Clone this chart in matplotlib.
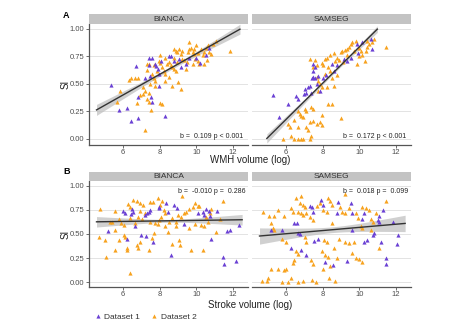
import numpy as np
import matplotlib.pyplot as plt
from matplotlib.lines import Line2D

plt.rcParams['font.family'] = ['Liberation Sans', 'DejaVu Sans']

# ---- data ----
# top row: SI vs WMH volume (log)
bianca_wmh_d1_x = [5.35, 5.76, 6.22, 6.43, 6.83, 6.70, 7.43, 7.57, 7.39, 7.20,
                   7.48, 7.50, 7.57, 6.80, 7.98, 7.94, 7.81, 7.89, 8.09, 8.28,
                   8.50, 8.61, 8.78, 9.06, 9.15, 9.43, 9.60, 9.98, 10.20, 10.50,
                   10.70, 7.76]
bianca_wmh_d1_y = [0.49, 0.26, 0.28, 0.16, 0.19, 0.66, 0.74, 0.74, 0.67, 0.55,
                   0.57, 0.38, 0.34, 0.38, 0.59, 0.48, 0.66, 0.64, 0.71, 0.21,
                   0.75, 0.75, 0.71, 0.73, 0.65, 0.68, 0.74, 0.74, 0.69, 0.76,
                   0.83, 0.68]
bianca_wmh_d2_x = [5.85, 5.69, 6.46, 6.65, 6.83, 7.07, 6.93, 7.11, 7.20, 7.39,
                   6.78, 7.30, 7.39, 7.54, 7.17, 7.30, 7.43, 7.30, 7.57, 7.67,
                   7.76, 8.00, 8.13, 8.00, 7.94, 8.04, 8.22, 8.31, 8.31, 8.50,
                   8.65, 8.41, 8.69, 8.78, 8.87, 8.87, 8.96, 9.06, 9.15, 9.02,
                   9.15, 9.24, 9.33, 9.52, 9.60, 9.70, 9.60, 9.80, 9.89, 9.89,
                   9.98, 10.07, 10.17, 10.35, 10.44, 10.54, 10.63, 10.70, 10.80, 10.90,
                   11.05, 11.83, 8.50, 8.59, 8.13, 7.85, 7.67, 8.31, 8.78, 9.43,
                   9.80, 10.44, 10.26, 9.24, 8.78, 7.48, 7.76, 6.30, 9.90, 10.60,
                   8.95, 9.50, 10.10]
bianca_wmh_d2_y = [0.44, 0.34, 0.55, 0.55, 0.55, 0.47, 0.40, 0.41, 0.44, 0.42,
                   0.33, 0.36, 0.34, 0.26, 0.08, 0.68, 0.68, 0.63, 0.59, 0.55,
                   0.53, 0.33, 0.32, 0.76, 0.71, 0.69, 0.62, 0.59, 0.53, 0.56,
                   0.48, 0.68, 0.65, 0.64, 0.62, 0.80, 0.79, 0.82, 0.77, 0.52,
                   0.45, 0.73, 0.72, 0.79, 0.82, 0.83, 0.88, 0.79, 0.77, 0.82,
                   0.85, 0.71, 0.68, 0.76, 0.79, 0.83, 0.85, 0.79, 0.77, 0.86,
                   0.89, 0.80, 0.70, 0.67, 0.65, 0.62, 0.67, 0.74, 0.74, 0.64,
                   0.68, 0.68, 0.82, 0.80, 0.82, 0.50, 0.48, 0.54, 0.73, 0.72,
                   0.70, 0.70, 0.78]

samseg_wmh_d1_x = [5.31, 5.63, 6.13, 6.56, 6.65, 7.02, 7.11, 6.98, 7.20, 7.30,
                   7.39, 7.48, 7.57, 7.48, 7.57, 7.35, 7.67, 7.76, 7.85, 8.50,
                   8.59, 8.78, 9.15, 9.33, 9.52, 9.89, 10.17, 10.63, 8.17, 7.48,
                   10.70, 9.90, 8.00]
samseg_wmh_d1_y = [0.40, 0.20, 0.32, 0.39, 0.36, 0.45, 0.42, 0.41, 0.47, 0.48,
                   0.55, 0.56, 0.55, 0.62, 0.65, 0.42, 0.50, 0.57, 0.44, 0.68,
                   0.62, 0.67, 0.73, 0.71, 0.74, 0.86, 0.88, 0.91, 0.58, 0.68,
                   0.82, 0.78, 0.55]
samseg_wmh_d2_x = [7.30, 7.48, 7.67, 7.94, 8.04, 8.31, 8.41, 8.22, 8.41, 8.69,
                   8.78, 9.00, 9.06, 9.20, 9.33, 9.43, 9.57, 9.60, 9.80, 9.98,
                   10.07, 10.17, 10.30, 10.44, 10.54, 10.70, 10.35, 10.80, 11.46, 9.89,
                   7.67, 7.76, 7.85, 7.94, 7.76, 8.31, 8.50, 9.02, 7.98, 7.35,
                   7.48, 7.02, 7.11, 6.83, 6.93, 6.65, 6.74, 7.30, 7.48, 7.67,
                   7.85, 7.94, 7.11, 7.20, 6.65, 6.28, 6.46, 6.65, 6.83, 6.93,
                   7.30, 7.35, 5.81, 6.09, 6.24, 6.43, 8.22, 8.50, 8.78, 8.59,
                   8.13, 8.90, 9.30, 9.70, 10.00, 10.40, 8.60, 7.60, 8.10, 9.10]
samseg_wmh_d2_y = [0.73, 0.65, 0.67, 0.69, 0.67, 0.65, 0.62, 0.74, 0.76, 0.71,
                   0.74, 0.79, 0.80, 0.81, 0.82, 0.84, 0.86, 0.88, 0.89, 0.83,
                   0.80, 0.76, 0.71, 0.89, 0.86, 0.88, 0.80, 0.91, 0.84, 0.68,
                   0.56, 0.53, 0.50, 0.47, 0.44, 0.32, 0.32, 0.19, 0.22, 0.29,
                   0.27, 0.27, 0.25, 0.21, 0.20, 0.25, 0.23, 0.15, 0.16, 0.14,
                   0.15, 0.13, 0.11, 0.08, 0.11, 0.03, 0.00, 0.00, 0.00, 0.00,
                   0.00, 0.03, 0.00, 0.14, 0.11, 0.17, 0.47, 0.55, 0.58, 0.48,
                   0.59, 0.72, 0.76, 0.80, 0.75, 0.84, 0.78, 0.72, 0.73, 0.70]

# bottom row: SI vs stroke volume (log)
bianca_stroke_d1_x = [5.20, 6.00, 6.13, 6.24, 6.50, 6.56, 6.46, 6.65, 6.96, 7.24,
                      7.17, 7.30, 7.39, 7.48, 7.61, 7.98, 7.94, 8.35, 8.59, 8.78,
                      8.96, 8.46, 9.33, 10.07, 10.35, 10.54, 10.69, 10.44, 10.76, 10.80,
                      11.15, 11.65, 11.83, 11.46, 11.52, 12.15, 12.35]
bianca_stroke_d1_y = [0.53, 0.74, 0.72, 0.45, 0.76, 0.73, 0.71, 0.58, 0.49, 0.48,
                      0.70, 0.72, 0.73, 0.75, 0.42, 0.78, 0.77, 0.82, 0.28, 0.80,
                      0.77, 0.73, 0.60, 0.72, 0.73, 0.76, 0.74, 0.70, 0.69, 0.45,
                      0.74, 0.53, 0.54, 0.26, 0.19, 0.22, 0.59]
bianca_stroke_d2_x = [4.76, 4.67, 5.02, 5.07, 5.54, 5.26, 5.39, 5.57, 5.76, 5.57,
                      5.91, 6.06, 6.06, 6.13, 6.19, 6.24, 6.37, 6.28, 6.37, 6.56,
                      6.74, 6.93, 6.65, 6.83, 7.02, 6.74, 6.83, 6.93, 7.11, 7.48,
                      7.61, 7.48, 7.39, 7.76, 7.94, 8.09, 7.91, 8.04, 7.67, 8.22,
                      8.31, 8.31, 8.46, 8.65, 8.69, 8.87, 8.91, 9.06, 9.09, 9.24,
                      9.15, 9.33, 9.43, 9.60, 9.80, 9.60, 9.70, 9.94, 10.07, 10.17,
                      10.26, 10.44, 10.35, 10.63, 10.72, 10.80, 11.09, 11.46,
                      5.80, 6.40, 7.20, 7.90, 8.50, 9.00, 9.90, 10.50, 11.30, 8.10,
                      7.60, 6.90]
bianca_stroke_d2_y = [0.76, 0.47, 0.44, 0.26, 0.33, 0.63, 0.62, 0.74, 0.44, 0.54,
                      0.61, 0.59, 0.49, 0.47, 0.35, 0.33, 0.09, 0.81, 0.78, 0.85,
                      0.84, 0.82, 0.61, 0.68, 0.66, 0.39, 0.35, 0.42, 0.80, 0.83,
                      0.83, 0.63, 0.33, 0.61, 0.65, 0.68, 0.87, 0.80, 0.51, 0.75,
                      0.72, 0.58, 0.52, 0.67, 0.40, 0.63, 0.58, 0.44, 0.39, 0.90,
                      0.68, 0.72, 0.73, 0.76, 0.78, 0.56, 0.33, 0.82, 0.79, 0.79,
                      0.59, 0.58, 0.33, 0.63, 0.72, 0.76, 0.52, 0.84,
                      0.66, 0.67, 0.72, 0.60, 0.62, 0.70, 0.60, 0.68, 0.66, 0.84,
                      0.46, 0.74]

samseg_stroke_d1_x = [5.20, 5.76, 6.28, 6.46, 6.59, 6.65, 6.74, 6.83, 7.11, 7.30,
                      7.43, 7.48, 7.54, 7.72, 7.91, 8.00, 8.13, 8.56, 8.78, 8.83,
                      9.30, 9.52, 9.60, 9.60, 10.17, 10.26, 10.44, 10.72, 10.80, 11.00,
                      11.09, 11.05, 11.28, 10.26, 11.18, 11.46, 11.43, 11.83, 12.10, 12.05]
samseg_stroke_d1_y = [0.54, 0.54, 0.35, 0.61, 0.61, 0.51, 0.50, 0.33, 0.28, 0.79,
                      0.78, 0.73, 0.43, 0.45, 0.85, 0.80, 0.21, 0.18, 0.72, 0.83,
                      0.22, 0.82, 0.72, 0.54, 0.66, 0.72, 0.44, 0.49, 0.51, 0.65,
                      0.69, 0.63, 0.75, 0.42, 0.42, 0.25, 0.19, 0.63, 0.49, 0.40]
samseg_stroke_d2_x = [4.76, 5.07, 5.35, 5.20, 5.26, 5.35, 5.76, 6.00, 5.54, 5.91,
                      6.28, 6.37, 6.56, 6.83, 6.74, 6.93, 7.02, 6.65, 6.80, 6.93,
                      7.11, 7.30, 7.48, 7.67, 7.85, 8.04, 8.22, 8.28, 8.41, 8.50,
                      8.50, 8.96, 9.06, 9.24, 9.24, 9.43, 9.80, 9.94, 10.17, 10.35,
                      10.54, 10.63, 10.72, 11.46, 10.90, 10.63, 10.07, 10.17, 9.24, 9.43,
                      9.70, 9.60, 9.98, 10.17, 11.05, 9.80, 8.59, 8.78, 8.91, 8.31,
                      8.41, 7.94, 8.13, 8.04, 8.35, 8.69, 8.09, 8.22, 7.35, 7.48,
                      6.46, 6.37, 6.56, 6.65, 6.00, 6.28, 5.91, 5.54, 5.20, 4.71,
                      4.98, 5.02, 5.76, 6.13, 6.65, 6.93, 7.39, 7.63, 7.11, 7.02]
samseg_stroke_d2_y = [0.73, 0.69, 0.69, 0.61, 0.56, 0.54, 0.45, 0.42, 0.75, 0.69,
                      0.77, 0.73, 0.87, 0.90, 0.82, 0.80, 0.78, 0.73, 0.72, 0.70,
                      0.72, 0.68, 0.65, 0.79, 0.82, 0.75, 0.73, 0.87, 0.84, 0.80,
                      0.61, 0.78, 0.73, 0.72, 0.92, 0.77, 0.72, 0.67, 0.78, 0.77,
                      0.75, 0.66, 0.63, 0.84, 0.72, 0.54, 0.58, 0.56, 0.42, 0.41,
                      0.42, 0.30, 0.24, 0.21, 0.35, 0.25, 0.35, 0.25, 0.45, 0.26,
                      0.17, 0.32, 0.28, 0.14, 0.04, 0.01, 0.44, 0.42, 0.23, 0.19,
                      0.23, 0.20, 0.32, 0.29, 0.14, 0.04, 0.125, 0.14, 0.14, 0.01,
                      0.01, 0.04, 0.00, 0.00, 0.00, 0.01, 0.02, 0.00, 0.42, 0.47]

# fitted lines: y at x=4.55, slope, band half-width (min), band growth
fit_start = [0.264, -0.061, 0.627, 0.479]
fit_slope = [0.0937, 0.1647, 0.0027, 0.0165]
band_min = [0.015, 0.012, 0.015, 0.030]
band_grow = [0.0115, 0.0112, 0.0133, 0.0200]
band_center = [8.7, 8.5, 8.5, 8.5]
fit_xrange = (4.55, 12.5)

annot = ['b =  0.109 p < 0.001', 'b =  0.172 p < 0.001',
         'b =  -0.010 p =  0.286', 'b =  0.018 p =  0.099']
strips = ['BIANCA', 'SAMSEG', 'BIANCA', 'SAMSEG']

col_d1 = '#6A40D4'
col_d2 = '#F7A21E'

panels = [
    (bianca_wmh_d1_x, bianca_wmh_d1_y, bianca_wmh_d2_x, bianca_wmh_d2_y),
    (samseg_wmh_d1_x, samseg_wmh_d1_y, samseg_wmh_d2_x, samseg_wmh_d2_y),
    (bianca_stroke_d1_x, bianca_stroke_d1_y, bianca_stroke_d2_x, bianca_stroke_d2_y),
    (samseg_stroke_d1_x, samseg_stroke_d1_y, samseg_stroke_d2_x, samseg_stroke_d2_y),
]

W, H = 474, 323
fig = plt.figure(figsize=(W / 100, H / 100), dpi=100)

# pixel boxes: (left, right) per column; (top, bottom, strip top, ymax, ymin) per row
xs = [(89, 248), (252, 411)]
rows = [(24, 145, 14, 1.045, -0.055), (181, 287, 172, 1.052, -0.052)]

for i, (d1x, d1y, d2x, d2y) in enumerate(panels):
    r, c = divmod(i, 2)
    l, rt = xs[c]
    top, bot, stop, ytop, ybot = rows[r]
    ax = fig.add_axes([l / W, 1 - bot / H, (rt - l) / W, (bot - top) / H])
    sax = fig.add_axes([l / W, 1 - top / H, (rt - l) / W, (top - stop) / H])
    sax.set_facecolor('#C3C3C3')
    sax.set_xticks([])
    sax.set_yticks([])
    for s in sax.spines.values():
        s.set_visible(False)
    sax.text(0.5, 0.45, strips[i], ha='center', va='center', fontsize=6, color='#333333')

    ax.set_xlim(4.14, 12.82)
    ax.set_ylim(ybot, ytop)
    ax.set_yticks([0, 0.25, 0.5, 0.75, 1.0])
    ax.set_xticks([6, 8, 10, 12])
    ax.grid(axis='y', color='#E3E3E3', linewidth=0.7)
    ax.set_axisbelow(True)
    for s in ['top', 'right']:
        ax.spines[s].set_visible(False)
    for s in ['left', 'bottom']:
        ax.spines[s].set_color('#555555')
        ax.spines[s].set_linewidth(0.9)
    ax.tick_params(length=2, width=0.6, color='#555555', labelsize=5.5,
                   labelcolor='#4D4D4D', pad=1.2)
    if c == 0:
        ax.set_yticklabels(['0.00', '0.25', '0.50', '0.75', '1.00'])
    else:
        ax.tick_params(axis='y', left=False, labelleft=False)
        ax.spines['left'].set_visible(False)

    # regression band and line
    xx = np.linspace(fit_xrange[0], fit_xrange[1], 200)
    yy = fit_start[i] + fit_slope[i] * (xx - fit_xrange[0])
    se = np.sqrt(band_min[i] ** 2 + band_grow[i] ** 2 * (xx - band_center[i]) ** 2)
    ok = (yy >= 0) & (yy <= 1)
    ax.fill_between(xx[ok], (yy - se)[ok], (yy + se)[ok], color='#BDBDBD', alpha=0.7,
                    linewidth=0, zorder=1)

    ax.scatter(d2x, d2y, marker='^', s=9, color=col_d2, linewidths=0, zorder=2)
    ax.scatter(d1x, d1y, marker='^', s=9, color=col_d1, linewidths=0, zorder=2)
    ax.plot(xx[ok], yy[ok], color='#333333', linewidth=1.0, zorder=3)

    if r == 0:
        ax.text(0.97, 0.07, annot[i], transform=ax.transAxes,
                ha='right', va='center', fontsize=5, color='#222222')
    else:
        ax.text(0.985, 0.905, annot[i], transform=ax.transAxes,
                ha='right', va='center', fontsize=5, color='#222222')

# panel letters, axis titles
fig.text(63 / W, 1 - 15 / H, 'A', fontsize=6.5, fontweight='bold', ha='left', va='center')
fig.text(63 / W, 1 - 172 / H, 'B', fontsize=6.5, fontweight='bold', ha='left', va='center')
fig.text(250 / W, 1 - 160 / H, 'WMH volume (log)', fontsize=7, ha='center', va='center', color='#222222')
fig.text(250 / W, 1 - 305 / H, 'Stroke volume (log)', fontsize=7, ha='center', va='center', color='#222222')
fig.text(66 / W, 1 - 84.5 / H, 'SI', fontsize=7, rotation=90, ha='center', va='center', color='#222222')
fig.text(66 / W, 1 - 234 / H, 'SI', fontsize=7, rotation=90, ha='center', va='center', color='#222222')

handles = [Line2D([], [], marker='^', linestyle='', color=col_d1, markersize=3, markeredgewidth=0),
           Line2D([], [], marker='^', linestyle='', color=col_d2, markersize=3, markeredgewidth=0)]
fig.legend(handles, ['Dataset 1', 'Dataset 2'], loc='center', bbox_to_anchor=(145 / W, 1 - 317 / H),
           ncol=2, frameon=False, fontsize=6, handletextpad=0.3, columnspacing=1.2,
           handlelength=1.0, labelcolor='#333333')

fig.savefig('out.png', dpi=100)
